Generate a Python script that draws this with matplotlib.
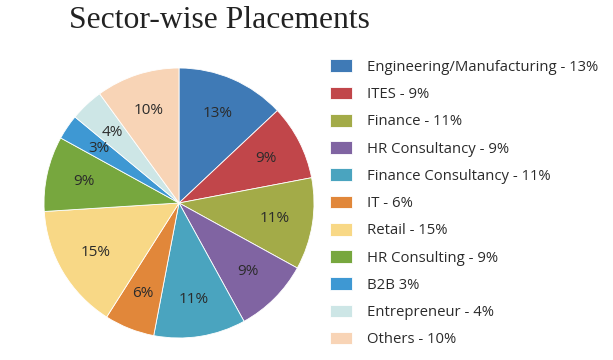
import matplotlib
matplotlib.use("Agg")
import matplotlib.pyplot as plt

categories = ["Engineering/Manufacturing", "ITES", "Finance", "HR Consultancy",
              "Finance Consultancy", "IT", "Retail", "HR Consulting", "B2B",
              "Entrepreneur", "Others"]
values = [13, 9, 11, 9, 11, 6, 15, 9, 3, 4, 10]
legend_labels = ["Engineering/Manufacturing - 13%", "ITES - 9%", "Finance - 11%",
                 "HR Consultancy - 9%", "Finance Consultancy - 11%", "IT - 6%",
                 "Retail - 15%", "HR Consulting - 9%", "B2B 3%",
                 "Entrepreneur - 4%", "Others - 10%"]
colors = ["#3f7ab6", "#c1464a", "#a3ab48", "#8064a2", "#4aa4bf", "#e1873a",
          "#f8d886", "#77a73e", "#3e98d3", "#cde6e6", "#f8d4b6"]

W, H = 613, 360
fig = plt.figure(figsize=(W / 100, H / 100), dpi=100)
fig.patch.set_facecolor("white")

cx, cy, r = 179, 203, 135
ax = fig.add_axes([(cx - r) / W, (H - cy - r) / H, 2 * r / W, 2 * r / H])
wedges, texts, autotexts = ax.pie(
    values, colors=colors, startangle=90, counterclock=False,
    autopct=lambda p: f"{p:.0f}%", pctdistance=0.72,
    wedgeprops=dict(linewidth=0.6, edgecolor="white"),
    textprops=dict(fontsize=11, color="#2b2b2b", family="Open Sans"))
ax.set_aspect("auto")
ax.set_xlim(-1, 1)
ax.set_ylim(-1, 1)

fig.text(219 / W, 1 - 21 / H, "Sector-wise Placements", ha="center", va="center",
         fontsize=22.8, family="Liberation Serif", color="#222222")

fs = 10.7
fs_px = fs * 100 / 72
leg = fig.legend(wedges, legend_labels, loc="upper left",
                 bbox_to_anchor=(330 / W, 1 - 59.5 / H),
                 frameon=False,
                 prop=dict(family="Open Sans", size=fs),
                 handlelength=22 / fs_px, handleheight=14 / fs_px,
                 handletextpad=15 / fs_px, labelspacing=0.79,
                 borderaxespad=0, borderpad=0)
for t in leg.get_texts():
    t.set_color("#2b2b2b")

fig.savefig("out.png", dpi=100)
